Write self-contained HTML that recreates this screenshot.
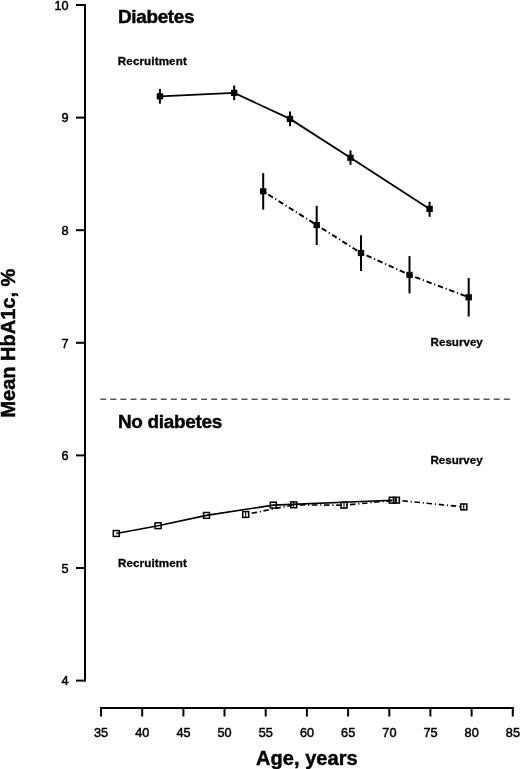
<!DOCTYPE html>
<html><head><meta charset="utf-8"><title>Mean HbA1c by age</title>
<style>
html,body{margin:0;padding:0;background:#fff;}
body{width:520px;height:769px;overflow:hidden;}
svg{display:block;}
.t{font-family:"Liberation Sans",Arial,sans-serif;font-size:13.7px;fill:#000;}
.b{font-family:"Liberation Sans",Arial,sans-serif;font-weight:bold;fill:#000;}
.bs{stroke:#000;stroke-width:0.45px;}
.ts{stroke:#000;stroke-width:0.5px;}
.ss{stroke:#000;stroke-width:0.3px;}
</style></head>
<body>
<svg width="520" height="769" viewBox="0 0 520 769">
<rect width="520" height="769" fill="#fff"/>
<line x1="85" y1="4" x2="85" y2="681.6" stroke="#000" stroke-width="2"/>
<line x1="76" y1="680.6" x2="85" y2="680.6" stroke="#000" stroke-width="2"/>
<text transform="translate(68.6,685.4) scale(0.93,1)" text-anchor="end" class="t ts">4</text>
<line x1="76" y1="568.0" x2="85" y2="568.0" stroke="#000" stroke-width="2"/>
<text transform="translate(68.6,572.8) scale(0.93,1)" text-anchor="end" class="t ts">5</text>
<line x1="76" y1="455.4" x2="85" y2="455.4" stroke="#000" stroke-width="2"/>
<text transform="translate(68.6,460.2) scale(0.93,1)" text-anchor="end" class="t ts">6</text>
<line x1="76" y1="342.8" x2="85" y2="342.8" stroke="#000" stroke-width="2"/>
<text transform="translate(68.6,347.6) scale(0.93,1)" text-anchor="end" class="t ts">7</text>
<line x1="76" y1="230.2" x2="85" y2="230.2" stroke="#000" stroke-width="2"/>
<text transform="translate(68.6,235.0) scale(0.93,1)" text-anchor="end" class="t ts">8</text>
<line x1="76" y1="117.6" x2="85" y2="117.6" stroke="#000" stroke-width="2"/>
<text transform="translate(68.6,122.4) scale(0.93,1)" text-anchor="end" class="t ts">9</text>
<line x1="76" y1="5.0" x2="85" y2="5.0" stroke="#000" stroke-width="2"/>
<text transform="translate(68.6,9.8) scale(0.93,1)" text-anchor="end" class="t ts">10</text>
<line x1="100" y1="708" x2="513.8" y2="708" stroke="#000" stroke-width="2"/>
<line x1="101.0" y1="707" x2="101.0" y2="716.5" stroke="#000" stroke-width="2"/>
<text transform="translate(101.1,736.7) scale(0.93,1)" text-anchor="middle" class="t ts">35</text>
<line x1="142.2" y1="707" x2="142.2" y2="716.5" stroke="#000" stroke-width="2"/>
<text transform="translate(142.3,736.7) scale(0.93,1)" text-anchor="middle" class="t ts">40</text>
<line x1="183.4" y1="707" x2="183.4" y2="716.5" stroke="#000" stroke-width="2"/>
<text transform="translate(183.5,736.7) scale(0.93,1)" text-anchor="middle" class="t ts">45</text>
<line x1="224.5" y1="707" x2="224.5" y2="716.5" stroke="#000" stroke-width="2"/>
<text transform="translate(224.6,736.7) scale(0.93,1)" text-anchor="middle" class="t ts">50</text>
<line x1="265.7" y1="707" x2="265.7" y2="716.5" stroke="#000" stroke-width="2"/>
<text transform="translate(265.8,736.7) scale(0.93,1)" text-anchor="middle" class="t ts">55</text>
<line x1="306.9" y1="707" x2="306.9" y2="716.5" stroke="#000" stroke-width="2"/>
<text transform="translate(307.0,736.7) scale(0.93,1)" text-anchor="middle" class="t ts">60</text>
<line x1="348.1" y1="707" x2="348.1" y2="716.5" stroke="#000" stroke-width="2"/>
<text transform="translate(348.2,736.7) scale(0.93,1)" text-anchor="middle" class="t ts">65</text>
<line x1="389.3" y1="707" x2="389.3" y2="716.5" stroke="#000" stroke-width="2"/>
<text transform="translate(389.4,736.7) scale(0.93,1)" text-anchor="middle" class="t ts">70</text>
<line x1="430.4" y1="707" x2="430.4" y2="716.5" stroke="#000" stroke-width="2"/>
<text transform="translate(430.5,736.7) scale(0.93,1)" text-anchor="middle" class="t ts">75</text>
<line x1="471.6" y1="707" x2="471.6" y2="716.5" stroke="#000" stroke-width="2"/>
<text transform="translate(471.7,736.7) scale(0.93,1)" text-anchor="middle" class="t ts">80</text>
<line x1="512.8" y1="707" x2="512.8" y2="716.5" stroke="#000" stroke-width="2"/>
<text transform="translate(512.9,736.7) scale(0.93,1)" text-anchor="middle" class="t ts">85</text>
<line x1="100.2" y1="399.3" x2="513" y2="399.3" stroke="#555" stroke-width="1.6" stroke-dasharray="6 4.09"/>
<text x="117.9" y="22.6" class="b bs" font-size="18.9" letter-spacing="-0.3">Diabetes</text>
<text x="117.8" y="65.0" class="b ss" font-size="11.6" letter-spacing="0.13">Recruitment</text>
<text x="430.6" y="345.8" class="b ss" font-size="11.6">Resurvey</text>
<text x="117.9" y="428.1" class="b bs" font-size="18.9" letter-spacing="-0.26">No diabetes</text>
<text x="430.4" y="464.3" class="b ss" font-size="11.6">Resurvey</text>
<text x="117.9" y="566.7" class="b ss" font-size="11.6" letter-spacing="0.13">Recruitment</text>
<text x="256" y="764.5" class="b bs" font-size="20" letter-spacing="0.05">Age, years</text>
<text transform="translate(15.2,417.6) rotate(-90)" x="0" y="0" class="b bs" font-size="20">Mean HbA1c, %</text>
<polyline points="159.9,96.3 234.2,92.9 290,118.9 350.5,157.8 429.6,208.9" fill="none" stroke="#000" stroke-width="1.8"/>
<line x1="263.2" y1="191.3" x2="316.7" y2="225" stroke="#000" stroke-width="1.9" stroke-dasharray="5.5 2.8 1.2 2.65" stroke-dashoffset="6.15"/>
<line x1="316.7" y1="225" x2="361" y2="253" stroke="#000" stroke-width="1.9" stroke-dasharray="5.5 2.8 1.2 2.65" stroke-dashoffset="6.15"/>
<line x1="361" y1="253" x2="409.5" y2="274.9" stroke="#000" stroke-width="1.9" stroke-dasharray="5.5 2.8 1.2 2.65" stroke-dashoffset="6.15"/>
<line x1="409.5" y1="274.9" x2="468.7" y2="297.3" stroke="#000" stroke-width="1.9" stroke-dasharray="5.5 2.8 1.2 2.65" stroke-dashoffset="6.15"/>
<polyline points="116.3,533.5 158.1,525.7 206.5,515.4 273.3,505.1 392.3,500.2" fill="none" stroke="#000" stroke-width="1.6"/>
<line x1="245.7" y1="514.5" x2="293.7" y2="504.8" stroke="#000" stroke-width="1.6" stroke-dasharray="5.5 2.8 1.2 2.65" stroke-dashoffset="6.15"/>
<line x1="293.7" y1="504.8" x2="344" y2="505.2" stroke="#000" stroke-width="1.6" stroke-dasharray="5.5 2.8 1.2 2.65" stroke-dashoffset="6.15"/>
<line x1="344" y1="505.2" x2="396.4" y2="500.2" stroke="#000" stroke-width="1.6" stroke-dasharray="5.5 2.8 1.2 2.65" stroke-dashoffset="6.15"/>
<line x1="396.4" y1="500.2" x2="463.8" y2="506.9" stroke="#000" stroke-width="1.6" stroke-dasharray="5.5 2.8 1.2 2.65" stroke-dashoffset="6.15"/>
<line x1="159.9" y1="88.9" x2="159.9" y2="103.7" stroke="#000" stroke-width="2"/>
<rect x="156.70000000000002" y="93.2" width="6.4" height="6.2" fill="#000"/>
<line x1="234.2" y1="85.5" x2="234.2" y2="100.2" stroke="#000" stroke-width="2"/>
<rect x="231.0" y="89.80000000000001" width="6.4" height="6.2" fill="#000"/>
<line x1="290" y1="111.5" x2="290" y2="126.2" stroke="#000" stroke-width="2"/>
<rect x="286.8" y="115.80000000000001" width="6.4" height="6.2" fill="#000"/>
<line x1="350.5" y1="150.4" x2="350.5" y2="164.8" stroke="#000" stroke-width="2"/>
<rect x="347.3" y="154.70000000000002" width="6.4" height="6.2" fill="#000"/>
<line x1="429.6" y1="201.8" x2="429.6" y2="216.8" stroke="#000" stroke-width="2"/>
<rect x="426.40000000000003" y="205.8" width="6.4" height="6.2" fill="#000"/>
<line x1="263.2" y1="173.1" x2="263.2" y2="209.6" stroke="#000" stroke-width="2"/>
<rect x="260.0" y="188.20000000000002" width="6.4" height="6.2" fill="#000"/>
<line x1="316.7" y1="205.8" x2="316.7" y2="245" stroke="#000" stroke-width="2"/>
<rect x="313.5" y="221.9" width="6.4" height="6.2" fill="#000"/>
<line x1="361" y1="235.3" x2="361" y2="271.1" stroke="#000" stroke-width="2"/>
<rect x="357.8" y="249.9" width="6.4" height="6.2" fill="#000"/>
<line x1="409.5" y1="256.1" x2="409.5" y2="293.4" stroke="#000" stroke-width="2"/>
<rect x="406.3" y="271.79999999999995" width="6.4" height="6.2" fill="#000"/>
<line x1="468.7" y1="278.1" x2="468.7" y2="316.5" stroke="#000" stroke-width="2"/>
<rect x="465.5" y="294.2" width="6.4" height="6.2" fill="#000"/>
<rect x="113.3" y="530.6" width="6.0" height="5.8" fill="none" stroke="#000" stroke-width="1.5"/>
<rect x="155.1" y="522.8000000000001" width="6.0" height="5.8" fill="none" stroke="#000" stroke-width="1.5"/>
<rect x="203.5" y="512.5" width="6.0" height="5.8" fill="none" stroke="#000" stroke-width="1.5"/>
<rect x="270.3" y="502.20000000000005" width="6.0" height="5.8" fill="none" stroke="#000" stroke-width="1.5"/>
<rect x="389.3" y="497.3" width="6.0" height="5.8" fill="none" stroke="#000" stroke-width="1.5"/>
<rect x="242.7" y="511.6" width="6.0" height="5.8" fill="none" stroke="#000" stroke-width="1.5"/>
<rect x="290.7" y="501.90000000000003" width="6.0" height="5.8" fill="none" stroke="#000" stroke-width="1.5"/>
<rect x="341.0" y="502.3" width="6.0" height="5.8" fill="none" stroke="#000" stroke-width="1.5"/>
<rect x="393.4" y="497.3" width="6.0" height="5.8" fill="none" stroke="#000" stroke-width="1.5"/>
<rect x="460.8" y="504.0" width="6.0" height="5.8" fill="none" stroke="#000" stroke-width="1.5"/>
<line x1="245.7" y1="511.5" x2="245.7" y2="517.5" stroke="#000" stroke-width="1"/>
<line x1="293.7" y1="501.8" x2="293.7" y2="507.8" stroke="#000" stroke-width="1"/>
<line x1="344" y1="502.2" x2="344" y2="508.2" stroke="#000" stroke-width="1"/>
<line x1="396.4" y1="497.2" x2="396.4" y2="503.2" stroke="#000" stroke-width="1"/>
<line x1="463.8" y1="503.9" x2="463.8" y2="509.9" stroke="#000" stroke-width="1"/>
</svg>
</body></html>
